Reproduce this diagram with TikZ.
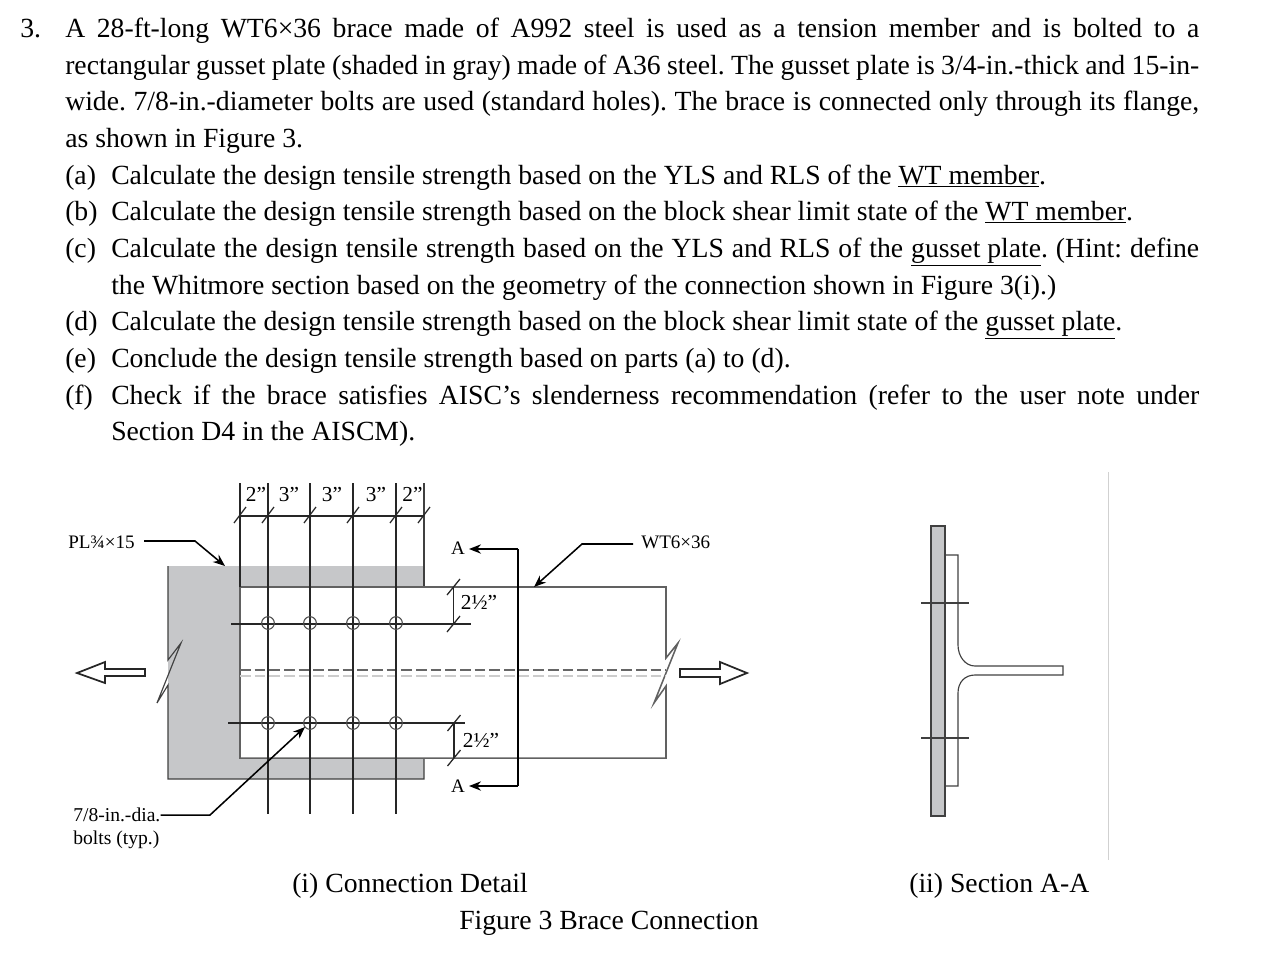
\documentclass[tikz,border=0pt]{standalone}
\usepackage{fontspec}
\setmainfont{Liberation Serif}
\usetikzlibrary{arrows.meta}
\frenchspacing
\newcommand{\fullrow}[1]{\makebox[850.5pt][s]{#1}}
\newcommand{\itemrow}[1]{\makebox[816pt][s]{#1}}
\definecolor{platefill}{RGB}{198,199,201}
\tikzset{
	body/.style={anchor=base west, inner sep=0pt, font=\fontsize{20.78}{24}\selectfont},
	small/.style={inner sep=0pt, font=\fontsize{14.3}{17}\selectfont},
	dimtext/.style={inner sep=0pt, font=\fontsize{16}{18}\selectfont},
	heavy/.style={line width=1.15pt, black!85},
	member/.style={line width=1.15pt, black!62},
	outline/.style={line width=0.85pt, black!75},
	tick/.style={line width=0.95pt, black!85},
	leader/.style={line width=1.15pt, black, -{Stealth[length=9pt,width=7pt]}},
	bolt/.style={circle, draw=black!70, line width=0.8pt, minimum size=9.5pt, inner sep=0pt},
	force/.style={line width=1.3pt, black!85, fill=white, line join=miter},
}
\begin{document}
\begin{tikzpicture}[x=0.75pt, y=-0.75pt]
	\useasboundingbox (0,0) rectangle (1266,965);

	\node [body] (qnum) at (20,37) {3.};
	\node [body] (qa) at (65,37) {\fullrow{A 28-ft-long WT6×36 brace made of A992 steel is used as a tension member and is bolted to a}};
	\node [body] (qb) at (65,74) {\fullrow{rectangular gusset plate (shaded in gray) made of A36 steel. The gusset plate is 3/4-in.-thick and 15-in-}};
	\node [body] (qc) at (65,110) {\fullrow{wide. 7/8-in.-diameter bolts are used (standard holes). The brace is connected only through its flange,}};
	\node [body] (qd) at (65,147) {as shown in Figure 3.};
	\node [body] (la) at (65,184) {(a)};
	\node [body] (ia) at (111,184) {Calculate the design tensile strength based on the YLS and RLS of the \underline{WT member}.};
	\node [body] (lb) at (65,220) {(b)};
	\node [body] (ib) at (111,220) {Calculate the design tensile strength based on the block shear limit state of the \underline{WT member}.};
	\node [body] (lc) at (65,257) {(c)};
	\node [body] (ic) at (111,257) {\itemrow{Calculate the design tensile strength based on the YLS and RLS of the \underline{gusset plate}. (Hint: define}};
	\node [body] (icc) at (111,294) {the Whitmore section based on the geometry of the connection shown in Figure 3(i).)};
	\node [body] (ld) at (65,330) {(d)};
	\node [body] (id) at (111,330) {Calculate the design tensile strength based on the block shear limit state of the \underline{gusset plate}.};
	\node [body] (le) at (65,367) {(e)};
	\node [body] (ie) at (111,367) {Conclude the design tensile strength based on parts (a) to (d).};
	\node [body] (lf) at (65,404) {(f)};
	\node [body] (if) at (111,404) {\itemrow{Check if the brace satisfies AISC’s slenderness recommendation (refer to the user note under}};
	\node [body] (iff) at (111,440) {Section D4 in the AISCM).};

	\fill [platefill] (168,566) -- (424,566) -- (424,587) -- (240,587) -- (240,758) -- (424,758) -- (424,779) -- (168,779) -- cycle;
	\draw [outline] (168,566) -- (168,660) -- (181,643) -- (157,703) -- (168,685) -- (168,779) -- (424,779) -- (424,758);
	\draw [outline] (424,587) -- (424,483);

	\draw [member] (240,758) -- (666,758) -- (666,686) -- (654,703) -- (678,643) -- (666,658) -- (666,587) -- (240,587) -- cycle;
	\draw [dash pattern=on 8pt off 3pt, line width=0.9pt, black!60] (240,670) -- (666,670);
	\draw [dash pattern=on 8pt off 3pt, line width=0.9pt, black!20] (240,676) -- (666,676);

	\coordinate (g0) at (240,483);
	\coordinate (g0b) at (240,587);
	\coordinate (g1) at (268,483);
	\coordinate (g1b) at (268,814);
	\coordinate (g2) at (310,483);
	\coordinate (g2b) at (310,814);
	\coordinate (g3) at (353,483);
	\coordinate (g3b) at (353,814);
	\coordinate (g4) at (396,483);
	\coordinate (g4b) at (396,814);
	\path [heavy] (g0) edge (g0b);
	\path [heavy] (g1) edge (g1b);
	\path [heavy] (g2) edge (g2b);
	\path [heavy] (g3) edge (g3b);
	\path [heavy] (g4) edge (g4b);

	\coordinate (d0) at (240,516);
	\coordinate (d1) at (268,516);
	\coordinate (d2) at (310,516);
	\coordinate (d3) at (353,516);
	\coordinate (d4) at (396,516);
	\coordinate (d5) at (424,516);
	\draw [heavy] (d0) -- (d5);
	\draw [tick] (d0) +(-6,7) -- +(6,-9);
	\draw [tick] (d1) +(-6,7) -- +(6,-9);
	\draw [tick] (d2) +(-6,7) -- +(6,-9);
	\draw [tick] (d3) +(-6,7) -- +(6,-9);
	\draw [tick] (d4) +(-6,7) -- +(6,-9);
	\draw [tick] (d5) +(-6,7) -- +(6,-9);

	\node [dimtext] (s1) at (256,494) {2”};
	\node [dimtext] (s2) at (289,494) {3”};
	\node [dimtext] (s3) at (332,494) {3”};
	\node [dimtext] (s4) at (376,494) {3”};
	\node [dimtext] (s5) at (412.5,494) {2”};

	\coordinate (r1a) at (231,624);
	\coordinate (r1b) at (471,624);
	\coordinate (r2a) at (228,723);
	\coordinate (r2b) at (465,723);
	\path [heavy] (r1a) edge (r1b);
	\path [heavy] (r2a) edge (r2b);
	\node [bolt] (b1) at (268,623) {};
	\node [bolt] (b2) at (310,623) {};
	\node [bolt] (b3) at (353,623) {};
	\node [bolt] (b4) at (396,623) {};
	\node [bolt] (b5) at (268,723) {};
	\node [bolt] (b6) at (310,723) {};
	\node [bolt] (b7) at (353,723) {};
	\node [bolt] (b8) at (396,723) {};

	\coordinate (e1) at (453.5,587);
	\coordinate (e2) at (453.5,624);
	\coordinate (e3) at (454,723);
	\coordinate (e4) at (454,758);
	\path [heavy] (e1) edge (e2);
	\path [heavy] (e3) edge (e4);
	\draw [tick] (e1) +(-6.5,8) -- +(6.5,-8);
	\draw [tick] (e2) +(-6.5,8) -- +(6.5,-8);
	\draw [tick] (e3) +(-6.5,8) -- +(6.5,-8);
	\draw [tick] (e4) +(-6.5,8) -- +(6.5,-8);
	\node [dimtext] (s6) at (479,602) {2½”};
	\node [dimtext] (s7) at (481,740) {2½”};

	\node [small] (secA) at (458,548) {A};
	\node [small] (secB) at (458,786) {A};
	\coordinate (cut1) at (518,549);
	\coordinate (cut2) at (518,786);
	\coordinate (tipA) at (469,549);
	\coordinate (tipB) at (469,786);
	\draw [line width=1.4pt, black] (cut1) -- (cut2);
	\path [leader] (cut1) edge (tipA);
	\path [leader] (cut2) edge (tipB);

	\node [small, anchor=west] (pl) at (68,542) {PL¾×15};
	\coordinate (plk) at (195,541);
	\coordinate (plt) at (225,566);
	\coordinate (pls) at (144,541);
	\draw [leader] (pls) -- (plk) -- (plt);

	\node [small, anchor=west] (wt) at (641,542) {WT6×36};
	\coordinate (wts) at (633,544);
	\coordinate (wtk) at (582,544);
	\coordinate (wtt) at (534,587);
	\draw [leader] (wts) -- (wtk) -- (wtt);

	\node [small, anchor=west, font=\fontsize{14.7}{17}\selectfont] (dia) at (73,815) {7/8-in.-dia.};
	\node [small, anchor=west, font=\fontsize{14.7}{17}\selectfont] (typ) at (73,840) {bolts (typ.)};
	\coordinate (diak) at (210,815);
	\coordinate (diat) at (305,727);
	\draw [leader] (dia.east) -- (diak) -- (diat);

	\draw [force] (145,669) -- (105,669) -- (105,662) -- (77,673) -- (105,683) -- (105,676) -- (145,676) -- cycle;
	\draw [force] (680,669) -- (720,669) -- (720,662) -- (747,673) -- (720,684) -- (720,677) -- (680,677) -- cycle;

	\draw [outline, fill=platefill] (931,526) rectangle (945,816);
	\draw [outline] (945,555) -- (958,555) -- (958,645) .. controls (958,656) and (965,666) .. (975,666) -- (1063,666) -- (1063,675) -- (975,675) .. controls (965,675) and (958,682) .. (958,693) -- (958,786) -- (945,786);
	\coordinate (h1a) at (921,603);
	\coordinate (h1b) at (969,603);
	\coordinate (h2a) at (921,738);
	\coordinate (h2b) at (969,738);
	\path [heavy, black!75] (h1a) edge (h1b);
	\path [heavy, black!75] (h2a) edge (h2b);
	\coordinate (rule1) at (1108,472);
	\coordinate (rule2) at (1108,860);
	\path [line width=0.6pt, black!18] (rule1) edge (rule2);

	\node [body] (capa) at (292,892) {(i) Connection Detail};
	\node [body] (capb) at (909,892) {(ii) Section A-A};
	\node [body] (capc) at (459,929) {Figure 3 Brace Connection};
\end{tikzpicture}
\end{document}
